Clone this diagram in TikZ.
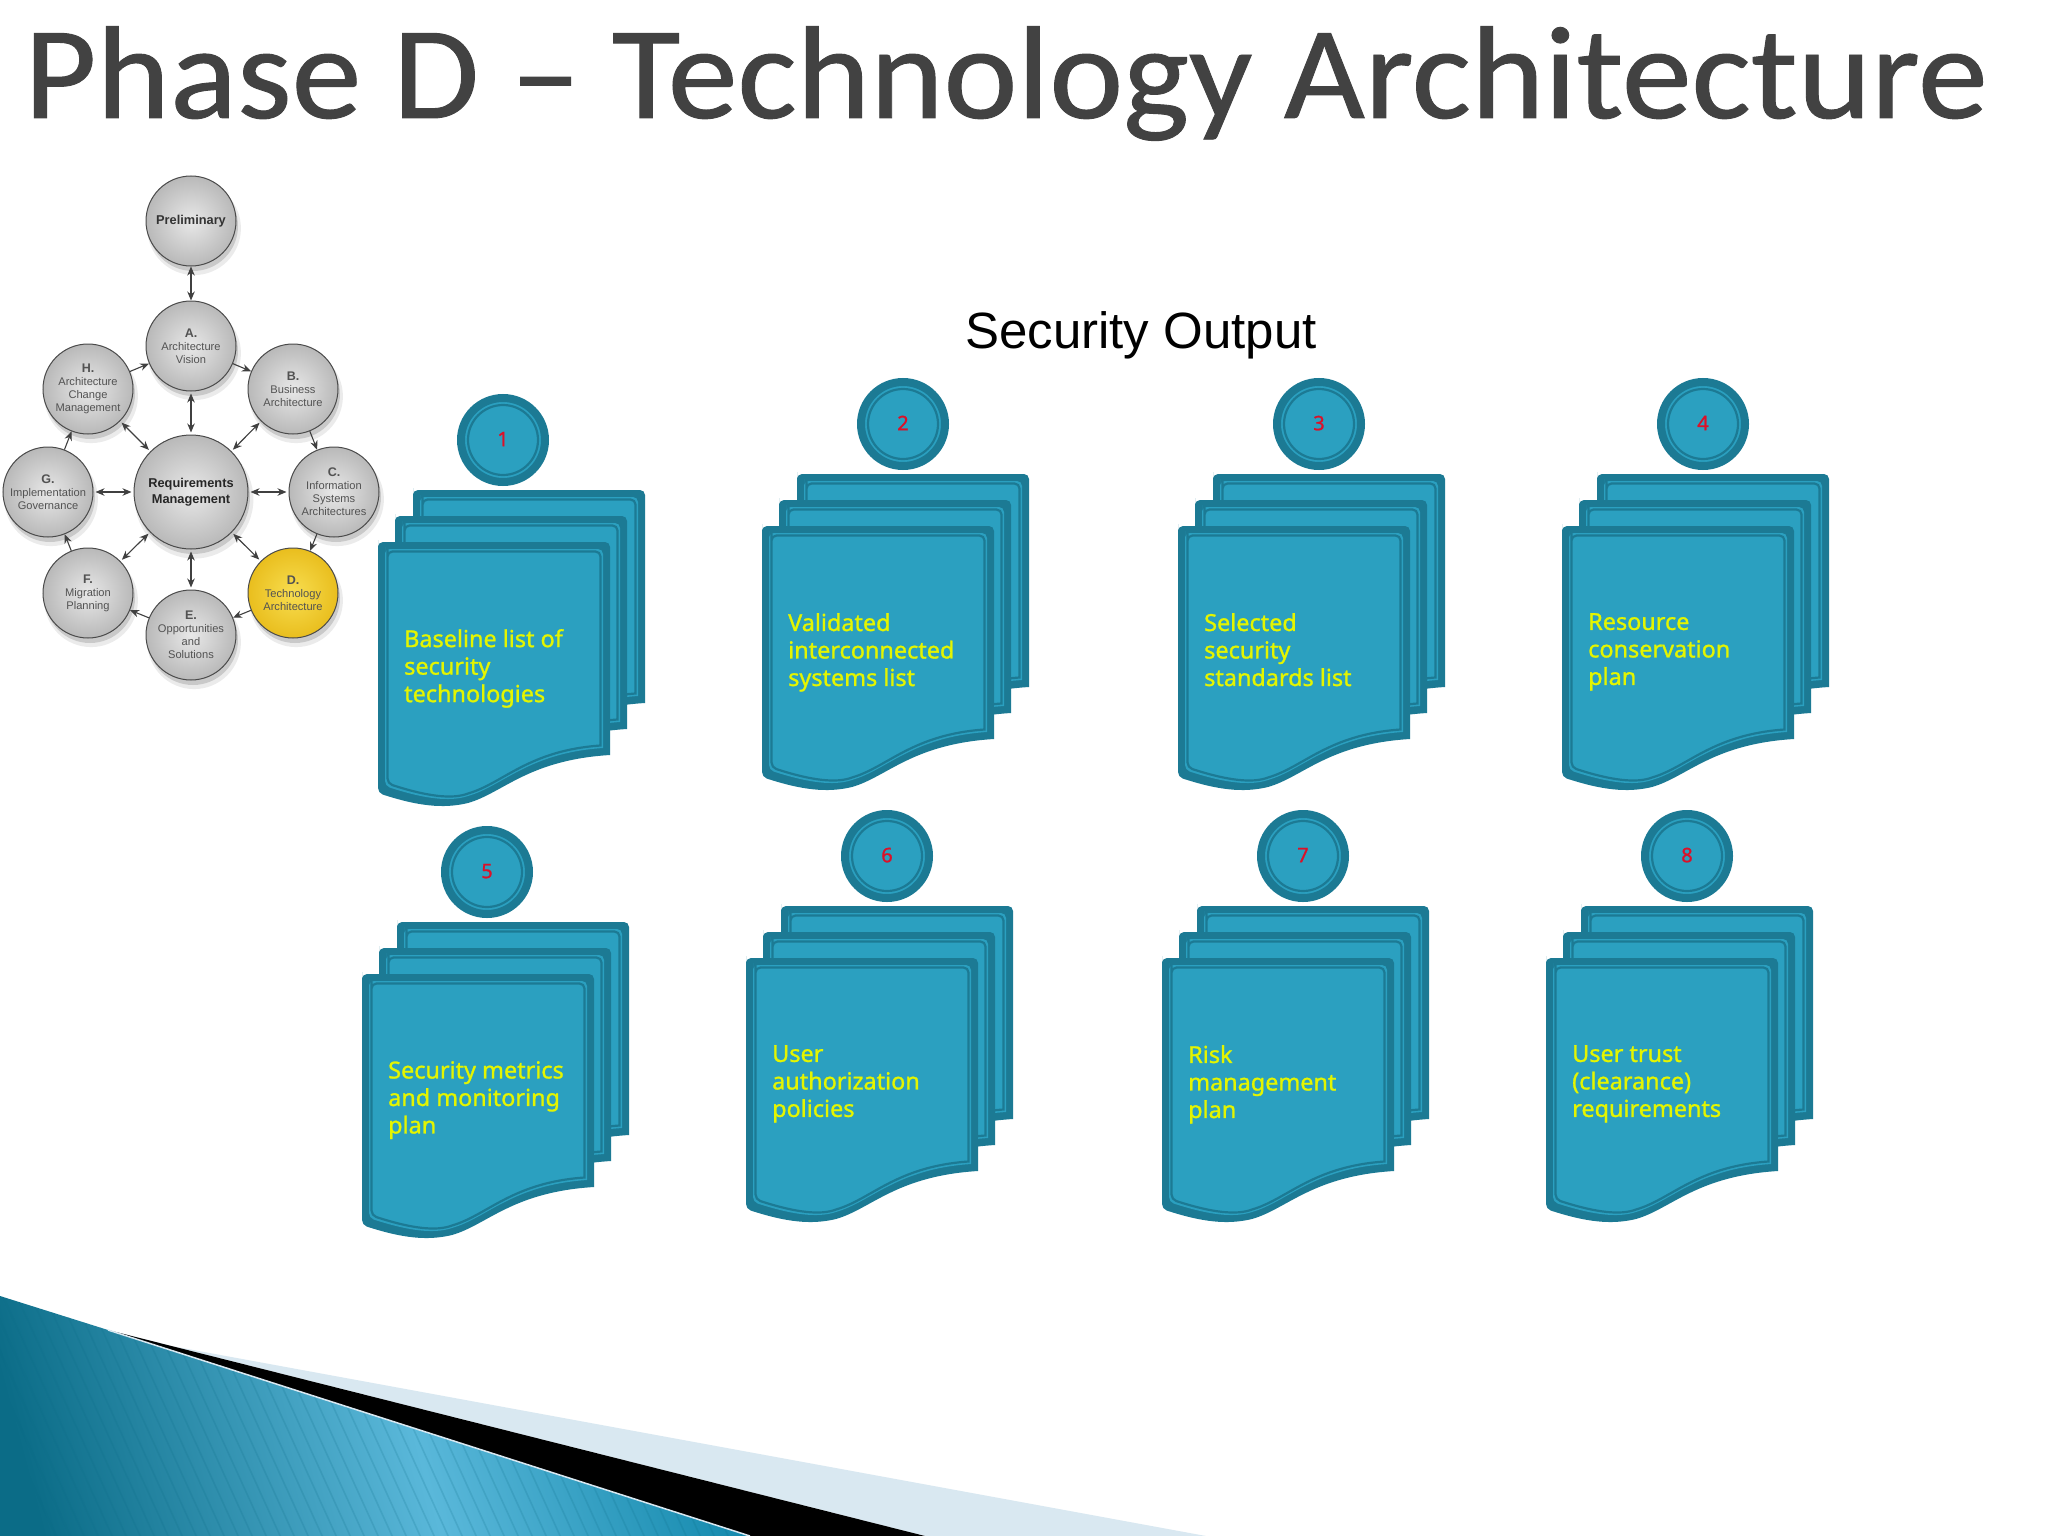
\documentclass[tikz,border=0pt]{standalone}
\usepackage{fontspec}
\usetikzlibrary{shadows,arrows.meta}
\setmainfont{Liberation Sans}
\newfontfamily\titlefont[FakeStretch=1.06,FakeBold=0.7]{Carlito}
\newfontfamily\docfont[FakeBold=1.1]{Noto Sans}
\definecolor{tealdark}{HTML}{1C7A94}
\definecolor{teallight}{HTML}{2BA0C0}
\definecolor{docyellow}{HTML}{E4F500}
\definecolor{numred}{HTML}{DC1028}
\definecolor{ringgray}{HTML}{4A4A4A}
\definecolor{bandA}{HTML}{0B6C87}
\definecolor{bandB}{HTML}{5AB8DA}
\definecolor{bandC}{HTML}{0C84A8}
\definecolor{swooshpale}{HTML}{D9E8F1}
\definecolor{sunA}{HTML}{F8DE50}
\definecolor{sunB}{HTML}{E9BE1E}
\pgfdeclarehorizontalshading{bandshade}{100bp}{color(0bp)=(bandA); color(25bp)=(bandA); color(52bp)=(bandB); color(75bp)=(bandC); color(100bp)=(bandC)}
\newcommand{\docoutline}[1]{%
  (#1,#1+3) [rounded corners=5pt] -- (#1,251-#1) [sharp corners]
  .. controls (#1+40,251-#1+13) and (#1+65,251-#1+16) .. (90,251-#1+10)
  .. controls (125,251-#1) and (150,213-#1+5) .. (232-#1,213-#1) [rounded corners=5pt] -- (232-#1,#1) -- (#1,#1) -- cycle}
\newcommand{\phead}[1]{{\bfseries\fontsize{12.5}{13}\selectfont #1}}
\tikzset{
  x=1pt,y=-1pt,
  docpage/.pic={
    \fill[tealdark] \docoutline{0};
    \fill[teallight] \docoutline{7};
    \draw[tealdark,line width=2.2pt] \docoutline{9.5};
  },
  numdisc/.style={circle,minimum size=84pt,inner sep=0pt,fill=teallight,draw=tealdark,line width=8pt,
    text=numred,font=\docfont\fontsize{20}{24}\selectfont},
  docbody/.style={anchor=north west,align=left,text=docyellow,inner sep=0pt,
    font=\docfont\fontsize{23.4}{27.5}\selectfont},
  phase/.style={circle,minimum size=90pt,inner sep=0pt,draw=ringgray,line width=1pt,
    inner color=gray!18,outer color=gray!55,text=black!68,align=center,
    font=\fontsize{11.1}{13}\selectfont,
    execute at end node={\\[7pt]\mbox{}},
    drop shadow={shadow xshift=2pt,shadow yshift=-5pt,fill=black,opacity=.14},
    drop shadow={shadow xshift=3pt,shadow yshift=-7pt,shadow scale=1.04,fill=black,opacity=.08}},
  rmcircle/.style={phase,minimum size=114pt,text=black!85,execute at end node={},font=\bfseries\fontsize{12.8}{16}\selectfont},
  prelim/.style={phase,text=black!80,execute at end node={},font=\bfseries\fontsize{12.8}{16}\selectfont},
  dphase/.style={phase,inner color=sunA,outer color=sunB},
  flow/.style={draw=black!75,line width=1.1pt,-{Stealth[length=9pt,width=7.5pt]}},
  flowboth/.style={draw=black!75,line width=1.1pt,{Stealth[length=9pt,width=7.5pt]}-{Stealth[length=9pt,width=7.5pt]}},
}
\newcommand{\stackdoc}[6]{%
  \pic at (#1+35,#2-52) {docpage};
  \pic at (#1+17,#2-26) {docpage};
  \pic at (#1,#2) {docpage};
  \node[docbody] (t#3) at (#1+26,#2+87) {#5};
  \node[numdisc] (n#3) at (#1+#6,#2-102) {\raisebox{2pt}{#4}};
  \draw[tealdark,line width=2.2pt] (n#3.center) circle[radius=35pt];
}
\begin{document}
\begin{tikzpicture}
\useasboundingbox (0,0) rectangle (2048,1536);
\fill[white] (0,0) rectangle (2048,1536);
% title
\node[anchor=base west,inner sep=0pt,text=black!74,font=\titlefont\fontsize{132}{132}\selectfont] (title) at (24,118) {Phase D – Technology Architecture};
\node[font=\fontsize{51}{60}\selectfont,text=black,inner sep=0pt] (sec) at (1141,335) {Security Output};
% ADM cycle
\node[prelim] (P) at (191,221) {Preliminary};
\node[phase] (A) at (191,346) {\phead{A.}\\Architecture\\Vision};
\node[phase] (B) at (293,389) {\phead{B.}\\Business\\Architecture};
\node[phase] (C) at (334,492) {\phead{C.}\\Information\\Systems\\Architectures};
\node[dphase] (D) at (293,593) {\phead{D.}\\Technology\\Architecture};
\node[phase] (E) at (191,635) {\phead{E.}\\Opportunities\\and\\Solutions};
\node[phase] (F) at (88,593) {\phead{F.}\\Migration\\Planning};
\node[phase] (G) at (48,492) {\phead{G.}\\Implementation\\Governance};
\node[phase] (H) at (88,389) {\phead{H.}\\Architecture\\Change\\Management};
\node[rmcircle,align=center] (R) at (191,492) {Requirements\\Management};
\draw[flowboth] (P) -- (A);
\foreach \a in {A,B,C,D,E,F,G,H} {\draw[flowboth,shorten >=2pt,shorten <=2pt] (R) -- (\a);}
\draw[flow] (A) -- (B);
\draw[flow] (B) -- (C);
\draw[flow] (C) -- (D);
\draw[flow] (D) -- (E);
\draw[flow] (E) -- (F);
\draw[flow] (F) -- (G);
\draw[flow] (G) -- (H);
\draw[flow] (H) -- (A);
% documents
\stackdoc{378}{542}{1}{1}{Baseline list of\\security\\technologies}{125}
\stackdoc{762}{526}{2}{2}{Validated\\interconnected\\systems list}{141}
\stackdoc{1178}{526}{3}{3}{Selected\\security\\standards list}{141}
\stackdoc{1562}{526}{4}{4}{Resource\\conservation\\plan}{141}
\stackdoc{362}{974}{5}{5}{Security metrics\\and monitoring\\plan}{125}
\stackdoc{746}{958}{6}{6}{User\\authorization\\policies}{141}
\stackdoc{1162}{958}{7}{7}{Risk\\management\\plan}{141}
\stackdoc{1546}{958}{8}{8}{User trust\\(clearance)\\requirements}{141}
% bottom swoosh
\fill[swooshpale] (108,1330) -- (166,1345) -- (1206,1536) -- (925,1536) -- cycle;
\fill[black] (108,1330) -- (925,1536) -- (750,1536) -- cycle;
\begin{scope}
\clip (0,1296) -- (108,1330) -- (750,1536) -- (0,1536) -- cycle;
\shade[shading=bandshade,shading angle=15] (-40,1290) rectangle (800,1540);
\foreach \s in {-700,-686,...,800} {
  \draw[bandA,opacity=.18,line width=1.6pt] (\s,1290) -- (\s+114,1540);
}
\end{scope}
\draw[swooshpale,line width=1.5pt] (108,1330) -- (750,1536);
\end{tikzpicture}
\end{document}
